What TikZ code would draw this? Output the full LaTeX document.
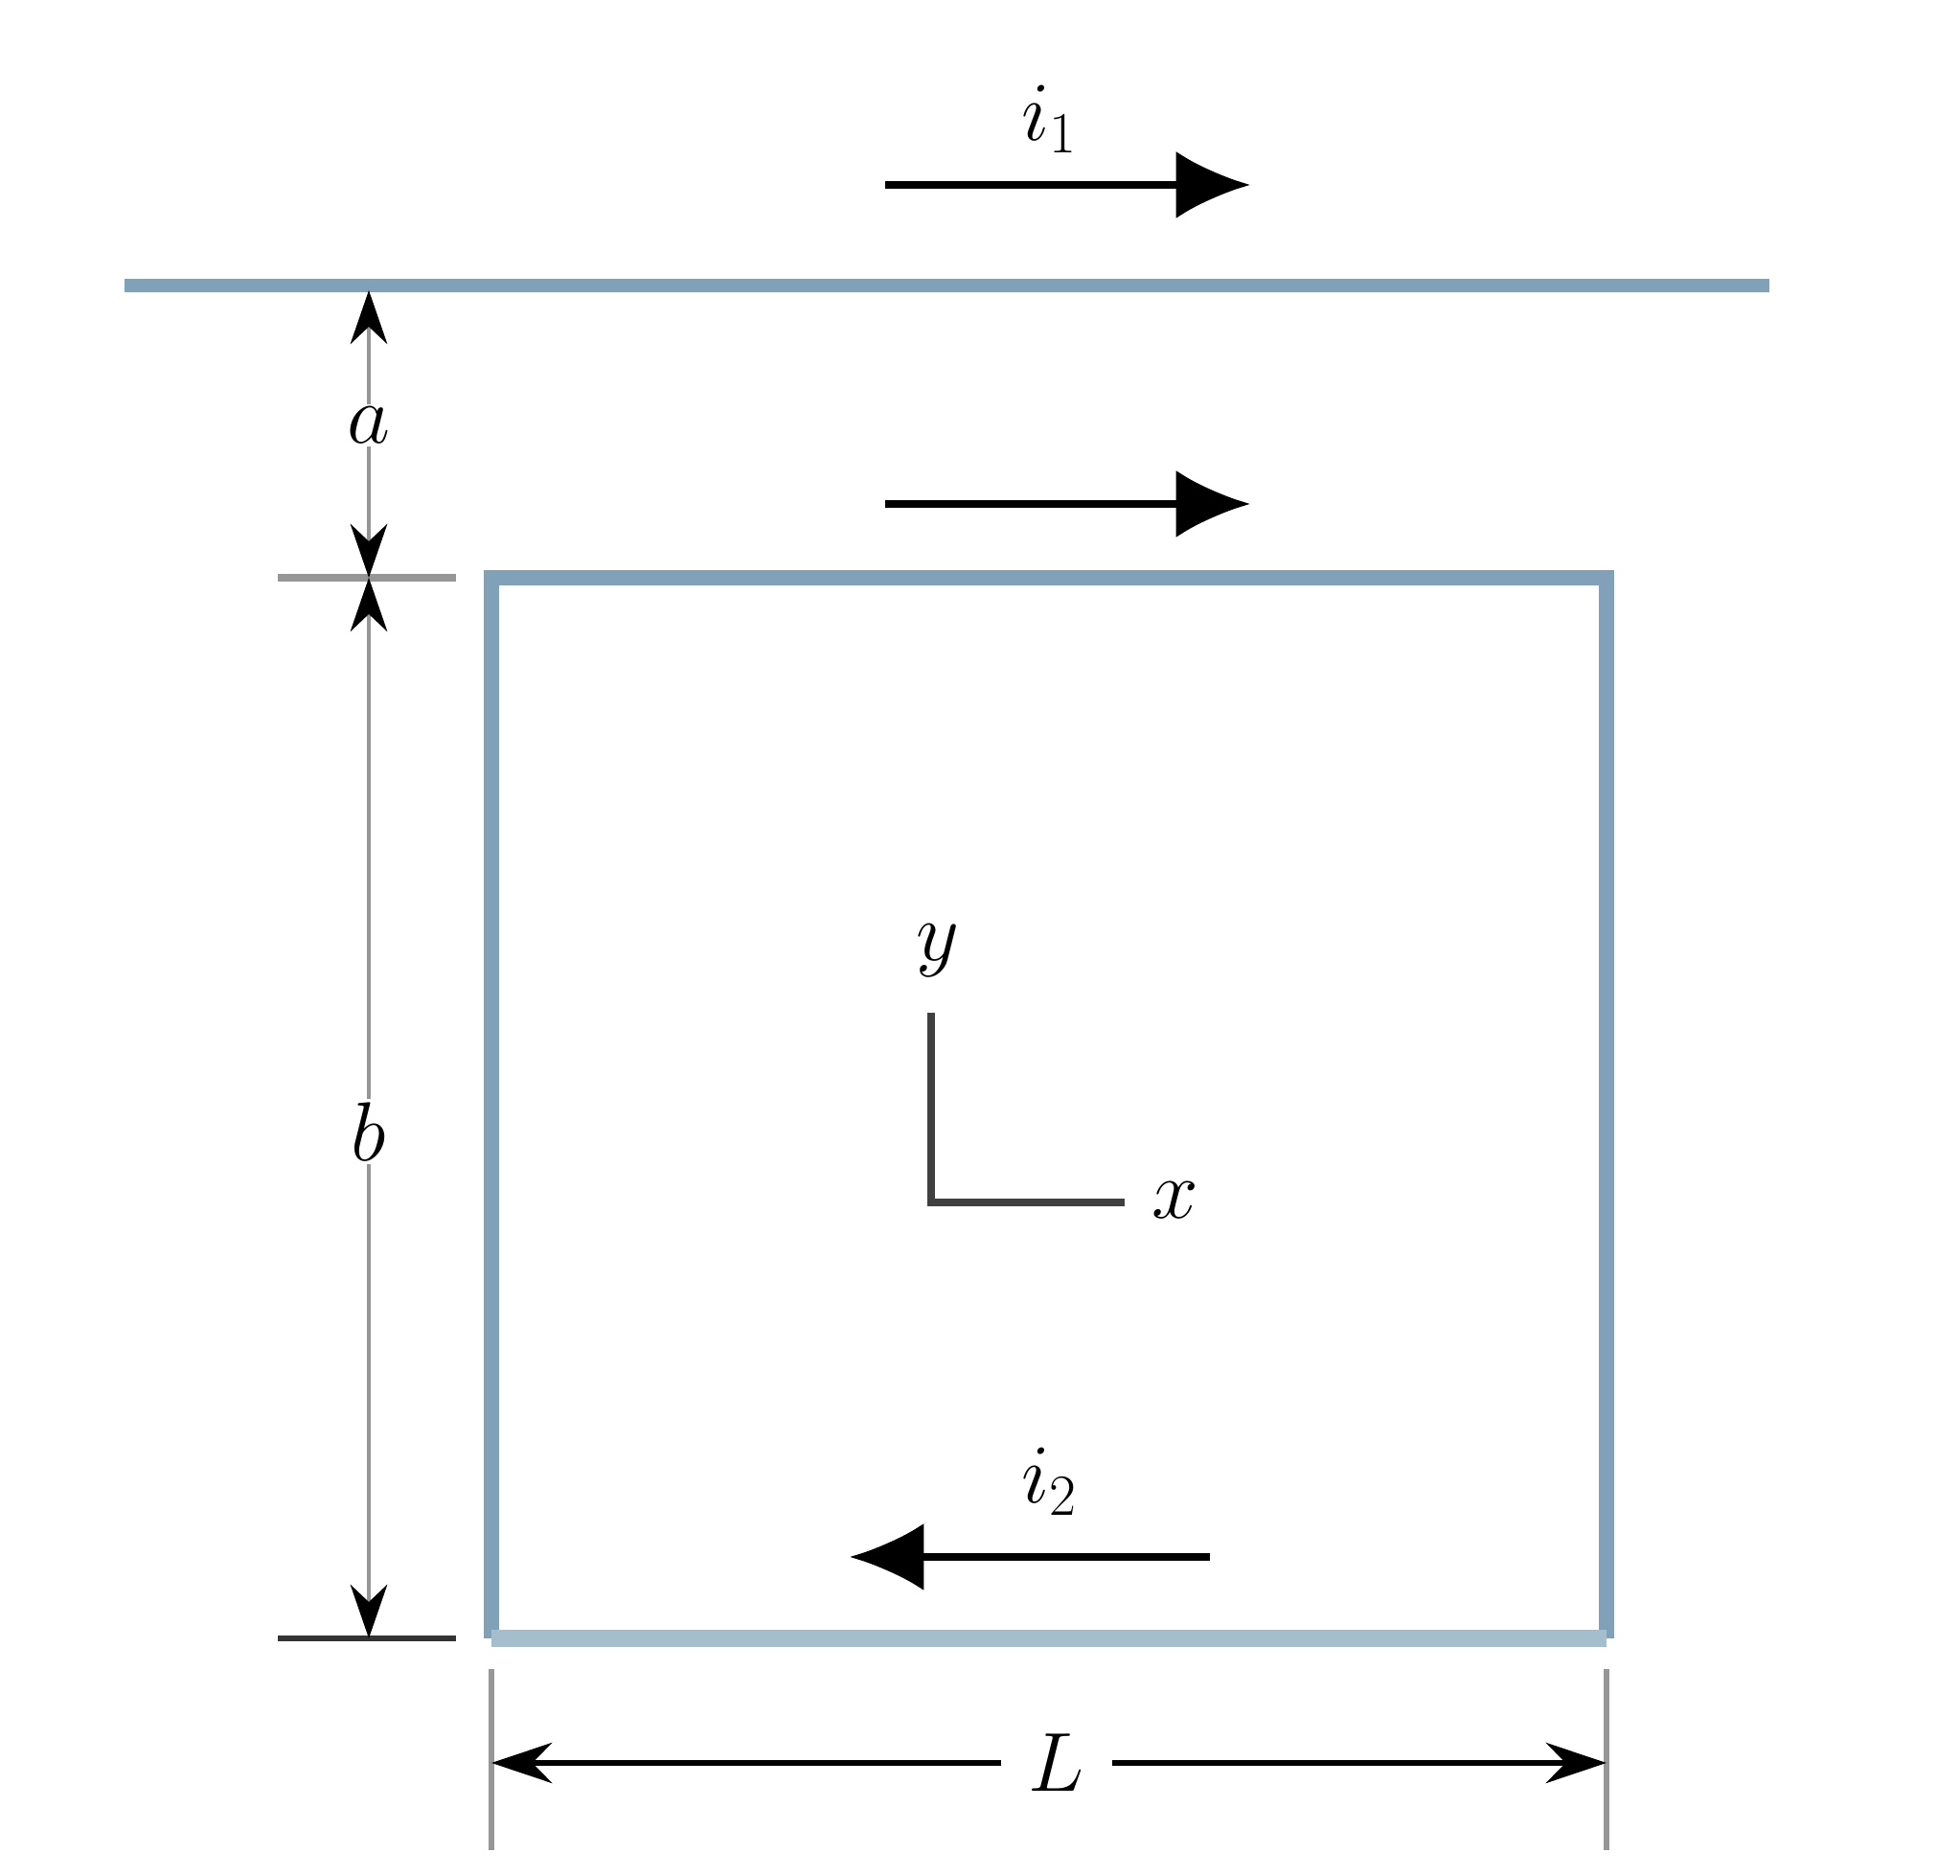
\documentclass[tikz,border=0pt]{standalone}
\usepackage{amsmath}
\usetikzlibrary{arrows.meta}
\definecolor{wire}{RGB}{128,161,184}
\definecolor{wirelight}{RGB}{165,190,205}
\definecolor{dimgray}{RGB}{150,150,150}

\begin{document}
\begin{tikzpicture}[
  current/.style={line width=2.2pt,-{Latex[length=22pt,width=20pt]}},
  dimline/.style={dimgray,line width=1pt,{Stealth[length=16pt,width=11pt,black]}-{Stealth[length=16pt,width=11pt,black]}},
  lbl/.style={inner sep=1pt,font=\fontsize{27}{30}\selectfont}
]
\useasboundingbox (0,0) rectangle (20.46,19.58);

% long wire
\coordinate (W1) at (1.30,16.60);
\coordinate (W2) at (18.47,16.60);
\draw[wire,line width=4pt] (W1) -- (W2);

% loop corners
\coordinate (A) at (5.13,13.55);
\coordinate (B) at (16.77,13.55);
\coordinate (C) at (16.77,2.48);
\coordinate (D) at (5.13,2.48);
\draw[wire,line width=4.5pt,line join=miter] (D) -- (A) -- (B) -- (C);
\draw[wirelight,line width=5pt] (C) -- (D);

% currents
\coordinate (P1) at (9.24,17.65);
\coordinate (P2) at (13.05,17.65);
\draw[current] (P1) -- (P2);
\node[lbl] (i1) at (10.96,18.34) {$i_1$};
\coordinate (Q1) at (9.24,14.32);
\coordinate (Q2) at (13.05,14.32);
\draw[current] (Q1) -- (Q2);
\coordinate (R1) at (12.63,3.33);
\coordinate (R2) at (8.87,3.33);
\draw[current] (R1) -- (R2);
\node[lbl] (i2) at (10.96,4.12) {$i_2$};

% dimensions a and b
\coordinate (T1) at (2.90,13.55);
\coordinate (T2) at (4.76,13.55);
\coordinate (T3) at (2.90,2.48);
\coordinate (T4) at (4.76,2.48);
\draw[dimgray,line width=2.5pt] (T1) -- (T2);
\draw[black!80,line width=1.8pt] (T3) -- (T4);
\coordinate (Da) at (3.85,16.55);
\coordinate (Db) at (3.85,13.55);
\coordinate (Dc) at (3.85,2.48);
\draw[dimline] (Da) -- (Db);
\draw[dimline] (Db) -- (Dc);
\node[lbl,fill=white] (a) at (3.85,15.14) {$a$};
\node[lbl,fill=white] (b) at (3.85,7.77) {$b$};

% dimension L
\coordinate (E1) at (5.13,2.16);
\coordinate (E2) at (5.13,0.27);
\coordinate (E3) at (16.77,2.16);
\coordinate (E4) at (16.77,0.27);
\draw[dimgray,line width=1.5pt] (E1) -- (E2);
\draw[dimgray,line width=1.5pt] (E3) -- (E4);
\coordinate (L1) at (5.13,1.18);
\coordinate (L2) at (16.77,1.18);
\node[lbl,fill=white,inner xsep=8pt] (L) at (11.03,1.18) {$L$};
\draw[line width=1.8pt,-{Stealth[length=18pt,width=12pt]}] (L.west) -- (L1);
\draw[line width=1.8pt,-{Stealth[length=18pt,width=12pt]}] (L.east) -- (L2);

% axes
\coordinate (Y) at (9.72,9.01);
\coordinate (X) at (11.74,7.03);
\coordinate (O) at (9.72,7.03);
\draw[black!75,line width=2.5pt] (Y) -- (O) -- (X);
\node[lbl] (y) at (9.79,9.66) {$y$};
\node[lbl] (x) at (12.27,7.05) {$x$};
\end{tikzpicture}
\end{document}
